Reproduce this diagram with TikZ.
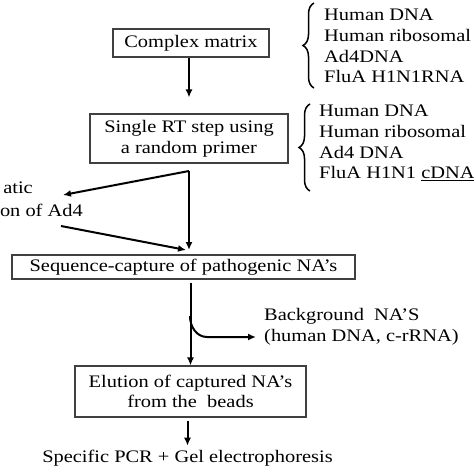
\documentclass[tikz,border=0pt]{standalone}
\usepackage{fontspec}
\setmainfont{Liberation Serif}[FakeStretch=1.16]
\usetikzlibrary{arrows.meta,decorations.pathreplacing}
\begin{document}
\begin{tikzpicture}[x=1pt,y=-1pt,
  every node/.style={font=\fontsize{17.6}{20.6}\selectfont, inner sep=0pt},
  box/.style={draw=black!75, line width=1.1pt, align=center},
  arr/.style={line width=2pt, -{Latex[length=8pt,width=7pt]}},
  brc/.style={line width=1.5pt, decorate, decoration={brace, amplitude=11pt, aspect=0.5}}]
\useasboundingbox (0,0) rectangle (474,474);
% boxes
\node[box, minimum width=156, minimum height=28] (cm) at (191,43) {Complex matrix};
\node[box, minimum width=198, minimum height=49] (rt) at (189,138.5) {Single RT step using\\a random primer};
\node[box, minimum width=343, minimum height=24] (seq) at (183.5,267) {Sequence-capture of pathogenic NA’s};
\node[box, minimum width=231, minimum height=51] (elu) at (190.5,391.5) {Elution of captured NA’s\\from the\ \ beads};
\node (pcr) at (187.5,458) {Specific PCR + Gel electrophoresis};
% right lists
\node[align=left, anchor=west] (l1) at (324,46) {Human DNA\\Human ribosomal\\Ad4DNA\\FluA H1N1RNA};
\node[align=left, anchor=west] (l2) at (319,143) {Human DNA\\Human ribosomal\\Ad4 DNA\\FluA H1N1 \underline{cDNA}};
\draw[brc] (314,88) -- (314,3);
\draw[brc] (310,191) -- (310,104);
% left text
\node[anchor=east] (la) at (33,188) {atic};
\node[anchor=east] (lb) at (83,210) {on of Ad4};
% background
\node[align=left, anchor=west] (bg) at (264,327) {Background\ \ NA’S\\(human DNA, c-rRNA)};
% connectors
\coordinate (fork) at (189,171);
\coordinate (ltip) at (63,195);
\coordinate (lstart) at (61,226);
\coordinate (stip) at (186,250);
\coordinate (bstart) at (190,316);
\coordinate (btip) at (256,337);
\draw[arr, shorten >=16pt] (rt.north |- cm.south) -- (rt.north);
\draw[arr] (fork) -- (ltip);
\draw[arr] (fork) -- (fork |- stip);
\draw[arr] (lstart) -- (stip);
\draw[arr, shorten <=3pt] (seq.south -| elu.north) -- (elu.north);
\draw[arr] (bstart) to[out=-90,in=180] (207,337) -- (btip);
\draw[arr, shorten <=3pt, shorten >=4pt] (elu.south -| pcr.north) -- (pcr.north);
\end{tikzpicture}
\end{document}
